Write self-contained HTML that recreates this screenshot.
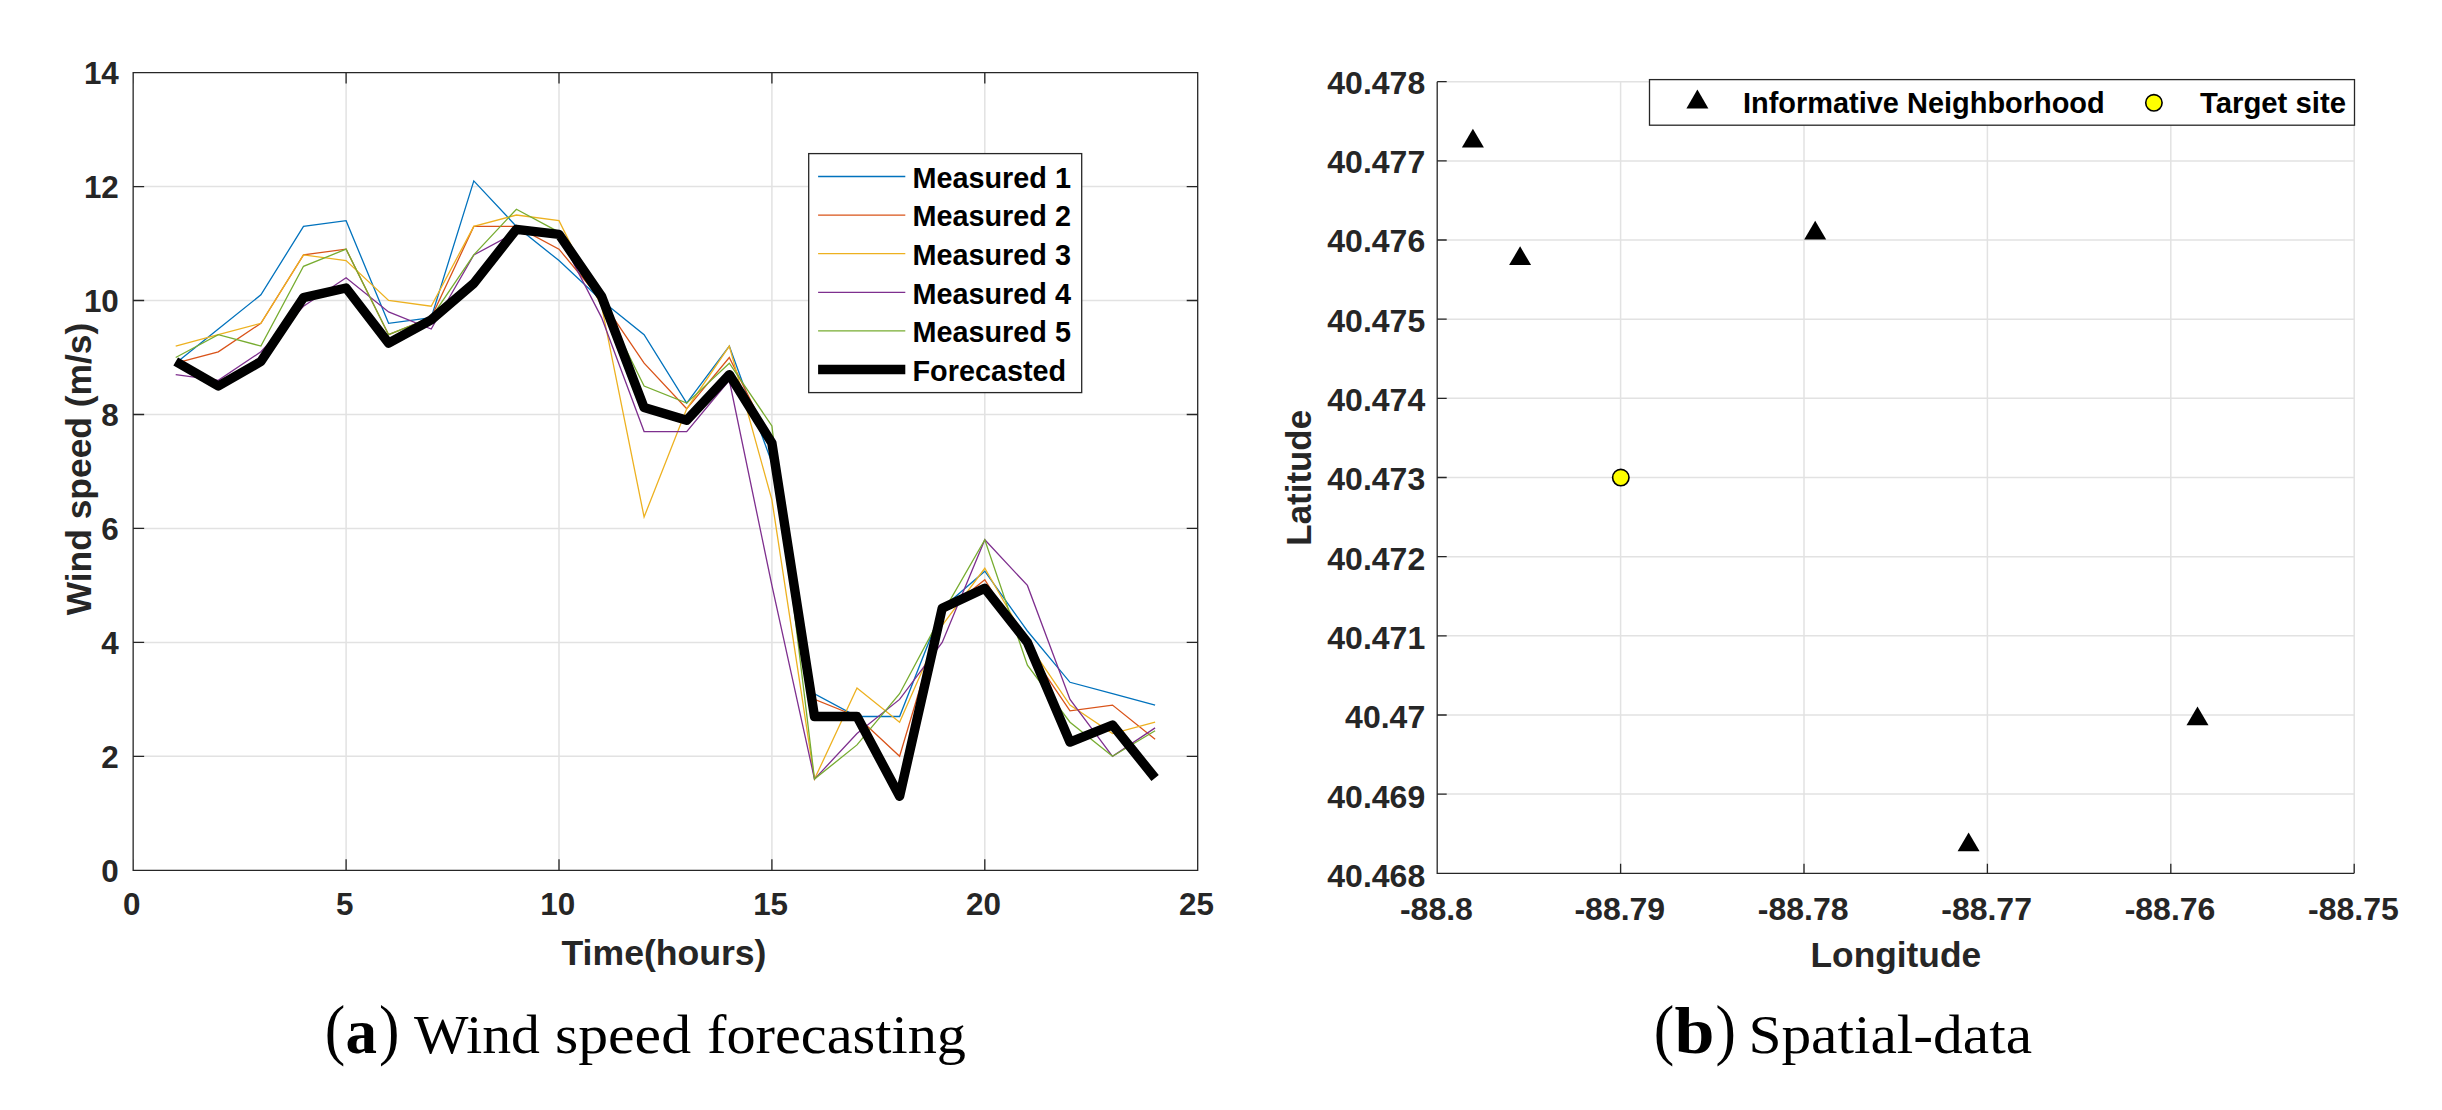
<!DOCTYPE html>
<html lang="en"><head><meta charset="utf-8"><title>Wind speed forecasting and spatial data</title>
<style>html,body{margin:0;padding:0;background:#fff}svg{display:block}
.t{font-family:"Liberation Sans",Arial,Helvetica,sans-serif;font-weight:bold;fill:#262626}
.l{font-family:"Liberation Sans",Arial,Helvetica,sans-serif;font-weight:bold;fill:#000}
.c{font-family:"Liberation Serif","DejaVu Serif",serif;fill:#000}
</style></head><body>
<svg width="2442" height="1110" viewBox="0 0 2442 1110">
<rect width="2442" height="1110" fill="#fff"/>
<g id="left">
<path d="M346.1 72.6V870.3M559.0 72.6V870.3M771.9 72.6V870.3M984.8 72.6V870.3M133.15 756.3H1197.7M133.15 642.4H1197.7M133.15 528.4H1197.7M133.15 414.5H1197.7M133.15 300.5H1197.7M133.15 186.6H1197.7" stroke="#e2e2e2" stroke-width="1.5" fill="none"/>
<polyline points="175.7,363.2 218.3,329.0 260.9,294.8 303.5,226.4 346.1,220.7 388.6,323.3 431.2,317.6 473.8,180.9 516.4,226.4 559.0,260.6 601.6,300.5 644.1,334.7 686.7,403.1 729.3,346.1 771.9,462.9 814.5,693.7 857.0,716.5 899.6,716.5 942.2,608.2 984.8,571.2 1027.4,631.0 1070.0,682.3 1112.5,693.7 1155.1,705.1" fill="none" stroke="#0072BD" stroke-width="1.3" stroke-linejoin="miter"/>
<polyline points="175.7,363.2 218.3,351.8 260.9,323.3 303.5,254.9 346.1,249.2 388.6,334.7 431.2,317.6 473.8,226.4 516.4,226.4 559.0,249.2 601.6,300.5 644.1,363.2 686.7,408.8 729.3,357.5 771.9,443.0 814.5,699.4 857.0,716.5 899.6,756.3 942.2,613.9 984.8,579.7 1027.4,648.1 1070.0,710.8 1112.5,705.1 1155.1,739.2" fill="none" stroke="#D95319" stroke-width="1.3" stroke-linejoin="miter"/>
<polyline points="175.7,346.1 218.3,334.7 260.9,323.3 303.5,254.9 346.1,260.6 388.6,300.5 431.2,306.2 473.8,226.4 516.4,215.0 559.0,220.7 601.6,306.2 644.1,517.0 686.7,408.8 729.3,346.1 771.9,499.9 814.5,779.1 857.0,688.0 899.6,722.2 942.2,625.3 984.8,568.3 1027.4,642.4 1070.0,705.1 1112.5,733.6 1155.1,722.2" fill="none" stroke="#EDB120" stroke-width="1.3" stroke-linejoin="miter"/>
<polyline points="175.7,374.6 218.3,380.3 260.9,351.8 303.5,306.2 346.1,277.7 388.6,311.9 431.2,329.0 473.8,254.9 516.4,232.1 559.0,235.0 601.6,317.6 644.1,431.6 686.7,431.6 729.3,380.3 771.9,585.4 814.5,779.1 857.0,733.6 899.6,699.4 942.2,642.4 984.8,539.8 1027.4,585.4 1070.0,699.4 1112.5,756.3 1155.1,727.9" fill="none" stroke="#7E2F8E" stroke-width="1.3" stroke-linejoin="miter"/>
<polyline points="175.7,357.5 218.3,334.7 260.9,346.1 303.5,266.3 346.1,249.2 388.6,334.7 431.2,317.6 473.8,254.9 516.4,209.3 559.0,232.1 601.6,300.5 644.1,386.0 686.7,403.1 729.3,363.2 771.9,425.9 814.5,779.1 857.0,744.9 899.6,693.7 942.2,613.9 984.8,539.8 1027.4,665.2 1070.0,722.2 1112.5,756.3 1155.1,730.7" fill="none" stroke="#77AC30" stroke-width="1.3" stroke-linejoin="miter"/>
<polyline points="175.7,361.5 218.3,386.0 260.9,361.5 303.5,297.7 346.1,288.0 388.6,343.2 431.2,319.9 473.8,283.4 516.4,229.3 559.0,234.4 601.6,296.5 644.1,407.6 686.7,420.2 729.3,374.6 771.9,443.0 814.5,716.5 857.0,716.5 899.6,796.2 942.2,608.2 984.8,588.3 1027.4,642.4 1070.0,742.1 1112.5,725.0 1155.1,778.0" fill="none" stroke="#000" stroke-width="9.4" stroke-linejoin="round"/>
<path d="M133.15 72.6H1197.7V870.3H133.15ZM133.2 870.3v-11M133.2 72.6v11M346.1 870.3v-11M346.1 72.6v11M559.0 870.3v-11M559.0 72.6v11M771.9 870.3v-11M771.9 72.6v11M984.8 870.3v-11M984.8 72.6v11M1197.7 870.3v-11M1197.7 72.6v11M133.15 870.3h11M1197.7 870.3h-11M133.15 756.3h11M1197.7 756.3h-11M133.15 642.4h11M1197.7 642.4h-11M133.15 528.4h11M1197.7 528.4h-11M133.15 414.5h11M1197.7 414.5h-11M133.15 300.5h11M1197.7 300.5h-11M133.15 186.6h11M1197.7 186.6h-11M133.15 72.6h11M1197.7 72.6h-11" stroke="#262626" stroke-width="1.3" fill="none"/>
<text class="t" x="118.8" y="881.6" font-size="31.4" text-anchor="end">0</text>
<text class="t" x="118.8" y="767.6" font-size="31.4" text-anchor="end">2</text>
<text class="t" x="118.8" y="653.7" font-size="31.4" text-anchor="end">4</text>
<text class="t" x="118.8" y="539.7" font-size="31.4" text-anchor="end">6</text>
<text class="t" x="118.8" y="425.8" font-size="31.4" text-anchor="end">8</text>
<text class="t" x="118.8" y="311.8" font-size="31.4" text-anchor="end">10</text>
<text class="t" x="118.8" y="197.9" font-size="31.4" text-anchor="end">12</text>
<text class="t" x="118.8" y="83.9" font-size="31.4" text-anchor="end">14</text>
<text class="t" x="131.8" y="914.8" font-size="31.4" text-anchor="middle">0</text>
<text class="t" x="344.8" y="914.8" font-size="31.4" text-anchor="middle">5</text>
<text class="t" x="557.7" y="914.8" font-size="31.4" text-anchor="middle">10</text>
<text class="t" x="770.6" y="914.8" font-size="31.4" text-anchor="middle">15</text>
<text class="t" x="983.5" y="914.8" font-size="31.4" text-anchor="middle">20</text>
<text class="t" x="1196.4" y="914.8" font-size="31.4" text-anchor="middle">25</text>
<text class="t" x="664" y="964.5" font-size="35.6" text-anchor="middle">Time(hours)</text>
<text class="t" transform="translate(91.2,469) rotate(-90)" font-size="35.4" text-anchor="middle">Wind speed (m/s)</text>
<rect x="808.7" y="153.6" width="273" height="239" fill="#fff" stroke="#262626" stroke-width="1.3"/>
<path d="M818.1 176.5H905.3" stroke="#0072BD" stroke-width="1.3"/>
<text class="l" x="912.5" y="187.8" font-size="28.8">Measured 1</text>
<path d="M818.1 215.1H905.3" stroke="#D95319" stroke-width="1.3"/>
<text class="l" x="912.5" y="226.4" font-size="28.8">Measured 2</text>
<path d="M818.1 253.7H905.3" stroke="#EDB120" stroke-width="1.3"/>
<text class="l" x="912.5" y="265.0" font-size="28.8">Measured 3</text>
<path d="M818.1 292.3H905.3" stroke="#7E2F8E" stroke-width="1.3"/>
<text class="l" x="912.5" y="303.6" font-size="28.8">Measured 4</text>
<path d="M818.1 330.9H905.3" stroke="#77AC30" stroke-width="1.3"/>
<text class="l" x="912.5" y="342.2" font-size="28.8">Measured 5</text>
<path d="M818.1 369.5H905.3" stroke="#000" stroke-width="9.4"/>
<text class="l" x="912.5" y="380.8" font-size="28.8">Forecasted</text>
</g>
<g id="right">
<path d="M1620.6 81.7V873.3M1804.0 81.7V873.3M1987.4 81.7V873.3M2170.8 81.7V873.3M2354.2 81.7V873.3M1437.2 794.1H2354.2M1437.2 715.0H2354.2M1437.2 635.8H2354.2M1437.2 556.7H2354.2M1437.2 477.5H2354.2M1437.2 398.3H2354.2M1437.2 319.2H2354.2M1437.2 240.0H2354.2M1437.2 160.9H2354.2M1437.2 81.7H2354.2" stroke="#e2e2e2" stroke-width="1.5" fill="none"/>
<path d="M1437.2 81.7V873.3H2354.2M1437.2 873.3v-9.5M1620.6 873.3v-9.5M1804.0 873.3v-9.5M1987.4 873.3v-9.5M2170.8 873.3v-9.5M2354.2 873.3v-9.5M1437.2 873.3h9.5M1437.2 794.1h9.5M1437.2 715.0h9.5M1437.2 635.8h9.5M1437.2 556.7h9.5M1437.2 477.5h9.5M1437.2 398.3h9.5M1437.2 319.2h9.5M1437.2 240.0h9.5M1437.2 160.9h9.5M1437.2 81.7h9.5" stroke="#262626" stroke-width="1.3" fill="none"/>
<text class="t" x="1425.2" y="886.9" font-size="32.0" text-anchor="end">40.468</text>
<text class="t" x="1425.2" y="807.6" font-size="32.0" text-anchor="end">40.469</text>
<text class="t" x="1425.2" y="728.3" font-size="32.0" text-anchor="end">40.47</text>
<text class="t" x="1425.2" y="649.0" font-size="32.0" text-anchor="end">40.471</text>
<text class="t" x="1425.2" y="569.7" font-size="32.0" text-anchor="end">40.472</text>
<text class="t" x="1425.2" y="490.4" font-size="32.0" text-anchor="end">40.473</text>
<text class="t" x="1425.2" y="411.0" font-size="32.0" text-anchor="end">40.474</text>
<text class="t" x="1425.2" y="331.7" font-size="32.0" text-anchor="end">40.475</text>
<text class="t" x="1425.2" y="252.4" font-size="32.0" text-anchor="end">40.476</text>
<text class="t" x="1425.2" y="173.1" font-size="32.0" text-anchor="end">40.477</text>
<text class="t" x="1425.2" y="93.8" font-size="32.0" text-anchor="end">40.478</text>
<text class="t" x="1436.4" y="919.8" font-size="32.0" text-anchor="middle">-88.8</text>
<text class="t" x="1619.8" y="919.8" font-size="32.0" text-anchor="middle">-88.79</text>
<text class="t" x="1803.2" y="919.8" font-size="32.0" text-anchor="middle">-88.78</text>
<text class="t" x="1986.6" y="919.8" font-size="32.0" text-anchor="middle">-88.77</text>
<text class="t" x="2170.0" y="919.8" font-size="32.0" text-anchor="middle">-88.76</text>
<text class="t" x="2353.4" y="919.8" font-size="32.0" text-anchor="middle">-88.75</text>
<text class="t" x="1895.8" y="966.5" font-size="35.3" text-anchor="middle">Longitude</text>
<text class="t" transform="translate(1311.3,477.8) rotate(-90)" font-size="34.9" text-anchor="middle">Latitude</text>
<path d="M1472.9 128.8L1483.9 147.6H1461.9Z" fill="#000"/>
<path d="M1520.1 246.3L1531.1 265.1H1509.1Z" fill="#000"/>
<path d="M1815.2 220.7L1826.2 239.5H1804.2Z" fill="#000"/>
<path d="M1968.6 832.4L1979.6 851.3H1957.6Z" fill="#000"/>
<path d="M2197.5 706.4L2208.5 725.3H2186.5Z" fill="#000"/>
<circle cx="1620.8" cy="477.55" r="8.2" fill="#ffff00" stroke="#000" stroke-width="1.6"/>
<rect x="1649.5" y="79.6" width="705" height="45.6" fill="#fff" stroke="#262626" stroke-width="1.3"/>
<path d="M1697.4 89.5L1708.4 108.4H1686.4Z" fill="#000"/>
<text class="l" x="1743" y="113.2" font-size="29.3" textLength="361.7" lengthAdjust="spacingAndGlyphs">Informative Neighborhood</text>
<circle cx="2153.9" cy="102.8" r="8.2" fill="#ffff00" stroke="#000" stroke-width="1.6"/>
<text class="l" x="2200" y="113.2" font-size="29.3">Target site</text>
</g>
<g id="captions">
<text class="c" x="324.8" y="1051.9" font-size="68.4" textLength="20.5" lengthAdjust="spacingAndGlyphs">(</text>
<text class="c" x="345.5" y="1053.3" font-size="63" font-weight="bold">a</text>
<text class="c" x="378.9" y="1051.9" font-size="68.4" textLength="20.5" lengthAdjust="spacingAndGlyphs">)</text>
<text class="c" x="414" y="1053.3" font-size="55.5" textLength="126" lengthAdjust="spacingAndGlyphs">Wind</text>
<text class="c" x="555" y="1053.3" font-size="55.5" textLength="136" lengthAdjust="spacingAndGlyphs">speed</text>
<text class="c" x="707" y="1053.3" font-size="55.5" textLength="259" lengthAdjust="spacingAndGlyphs">forecasting</text>
<text class="c" x="1653.8" y="1051.9" font-size="68.4" textLength="20.5" lengthAdjust="spacingAndGlyphs">(</text>
<text class="c" x="1674.5" y="1053.3" font-size="66" font-weight="bold" textLength="40" lengthAdjust="spacingAndGlyphs">b</text>
<text class="c" x="1715.6" y="1051.9" font-size="68.4" textLength="20.5" lengthAdjust="spacingAndGlyphs">)</text>
<text class="c" x="1748.4" y="1053.3" font-size="55.5" textLength="283.6" lengthAdjust="spacingAndGlyphs">Spatial-data</text>
</g>
</svg>
</body></html>
